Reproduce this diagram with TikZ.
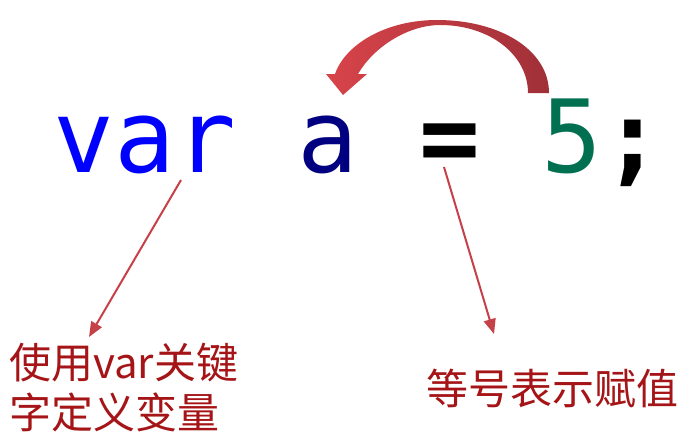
\documentclass[tikz,border=0pt]{standalone}
\usepackage{fontspec}
\setmonofont{DejaVu Sans Mono}
\newfontfamily\cjk{Noto Sans CJK SC}
\usetikzlibrary{arrows.meta,positioning}
\definecolor{kwblue}{RGB}{0,0,255}
\definecolor{varnavy}{RGB}{0,0,128}
\definecolor{numgreen}{RGB}{0,112,80}
\definecolor{notered}{RGB}{165,20,22}
\definecolor{pointred}{RGB}{198,64,72}
\definecolor{bowlight}{RGB}{216,68,74}
\definecolor{bowdark}{RGB}{160,48,56}

\begin{document}
\begin{tikzpicture}[x=1pt, y=-1pt, inner sep=0pt, >=latex,
   code/.style={anchor=base west, font=\fontsize{101}{101}\selectfont\ttfamily},
   note/.style={anchor=west, align=left, text=notered, font=\fontsize{42}{50}\selectfont\cjk},
   pointer/.style={draw=pointred, line width=2pt, -{Triangle[length=15pt,width=12pt]}}
   ]
   \useasboundingbox (0,0) rectangle (694,445);

   % the statement, one cell of 61pt per character
   \node[code, text=kwblue]   (kw)   at (53.5,172) {var};
   \node[code, text=varnavy]  (vname) at (297.5,172) {a};
   \node[code, text=black]    (eq)   at (419.5,172) {\bfseries =};
   \node[code, text=numgreen] (val)  at (541.5,172) {5};
   \node[code, text=black]    (semi) at (602.5,172) {\bfseries ;};

   % notes
   \node[note] (kwnote) at (9,388) {使用var关键\\字定义变量};
   \node[note] (eqnote) at (426,388) {等号表示赋值};

   % pointers
   \coordinate (kwfoot) at (181,180);
   \coordinate (kwtip)  at (89,337);
   \coordinate (eqfoot) at (444,167);
   \coordinate (eqtip)  at (494,334);
   \draw[pointer] (kwfoot) -- (kwtip);
   \draw[pointer] (eqfoot) -- (eqtip);

   % bent arrow from the value back to the name
   \shade[left color=bowlight, right color=bowdark]
   (549,93) .. controls (549,50) and (500,20) .. (437,20)
   .. controls (385,20) and (345,45) .. (335,74)
   -- (326,74) -- (343,95) -- (367,74) -- (358,74)
   .. controls (375,45) and (410,25) .. (440,25)
   .. controls (490,25) and (528,55) .. (528,93) -- cycle;
\end{tikzpicture}
\end{document}
